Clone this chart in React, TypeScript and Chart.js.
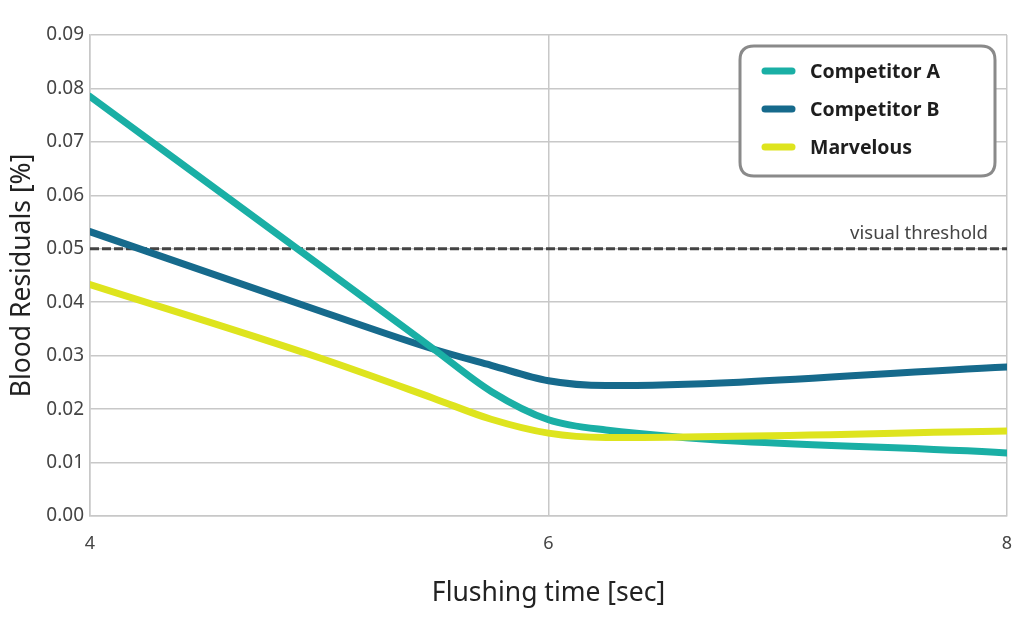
import React, { useEffect, useRef } from "react";
import { Chart, registerables } from "chart.js";

Chart.register(...registerables);

const X_VALUES = [4, 5, 5.5, 5.75, 6, 6.25, 8];
const COMPETITOR_A = [0.0785, 0.047, 0.0312, 0.0233, 0.018, 0.0161, 0.0118];
const COMPETITOR_B = [0.0532, 0.0384, 0.0312, 0.0282, 0.0253, 0.0244, 0.0279];
const MARVELOUS = [0.0433, 0.0296, 0.022, 0.0181, 0.0155, 0.0147, 0.0159];
const SERIES_LABELS = ["Competitor A", "Competitor B", "Marvelous"];
const SERIES_COLORS = ["#1aafa5", "#166a8c", "#dee41e"];
const THRESHOLD = 0.05;
const THRESHOLD_LABEL = "visual threshold";
const X_TITLE = "Flushing time [sec]";
const Y_TITLE = "Blood Residuals [%]";

const FONT = "'Noto Sans', 'Open Sans', sans-serif";

export default function App() {
  const ref = useRef<HTMLCanvasElement | null>(null);

  useEffect(() => {
    document.body.style.margin = "0";
    const canvas = ref.current;
    if (!canvas) return;

    const series = [COMPETITOR_A, COMPETITOR_B, MARVELOUS];
    const orders = [1, 2, 0];

    const lineSets = series.map((vals, i) => ({
      label: SERIES_LABELS[i],
      data: X_VALUES.map((x, j) => ({ x, y: vals[j] })),
      borderColor: SERIES_COLORS[i],
      backgroundColor: SERIES_COLORS[i],
      borderWidth: 7,
      pointRadius: 0,
      cubicInterpolationMode: "monotone" as const,
      borderCapStyle: "round" as const,
      order: orders[i],
      fill: false,
    }));

    const thresholdSet = {
      label: THRESHOLD_LABEL,
      data: [
        { x: X_VALUES[0], y: THRESHOLD },
        { x: X_VALUES[X_VALUES.length - 1], y: THRESHOLD },
      ],
      borderColor: "#444444",
      borderWidth: 3,
      borderDash: [9, 3],
      pointRadius: 0,
      order: 3,
      fill: false,
    };

    const overlay = {
      id: "overlay",
      afterDraw(chart: any) {
        const { ctx, chartArea, scales } = chart;
        ctx.save();
        // threshold label
        const ty = scales.y.getPixelForValue(THRESHOLD);
        ctx.font = `18.5px ${FONT}`;
        ctx.fillStyle = "#444444";
        ctx.textAlign = "right";
        ctx.textBaseline = "bottom";
        ctx.fillText(THRESHOLD_LABEL, chartArea.right - 19, ty - 6);

        // legend box
        const bx = 740, by = 46, bw = 255, bh = 130, r = 14;
        ctx.beginPath();
        ctx.moveTo(bx + r, by);
        ctx.lineTo(bx + bw - r, by);
        ctx.quadraticCurveTo(bx + bw, by, bx + bw, by + r);
        ctx.lineTo(bx + bw, by + bh - r);
        ctx.quadraticCurveTo(bx + bw, by + bh, bx + bw - r, by + bh);
        ctx.lineTo(bx + r, by + bh);
        ctx.quadraticCurveTo(bx, by + bh, bx, by + bh - r);
        ctx.lineTo(bx, by + r);
        ctx.quadraticCurveTo(bx, by, bx + r, by);
        ctx.closePath();
        ctx.fillStyle = "#ffffff";
        ctx.fill();
        ctx.lineWidth = 3;
        ctx.strokeStyle = "#8a8a8a";
        ctx.stroke();

        SERIES_LABELS.forEach((label, i) => {
          const y = 71 + i * 38;
          ctx.beginPath();
          ctx.moveTo(765, y);
          ctx.lineTo(792, y);
          ctx.lineWidth = 7;
          ctx.lineCap = "round";
          ctx.strokeStyle = SERIES_COLORS[i];
          ctx.stroke();
          ctx.font = `bold 19.5px ${FONT}`;
          ctx.fillStyle = "#1e1e1e";
          ctx.textAlign = "left";
          ctx.textBaseline = "middle";
          ctx.fillText(label, 810, y + 1);
        });
        ctx.restore();
      },
    };

    const chart = new Chart(canvas, {
      type: "line",
      data: { datasets: [...lineSets, thresholdSet] as any },
      options: {
        animation: false,
        responsive: false,
        maintainAspectRatio: false,
        layout: { padding: { top: 35, right: 17, left: 0, bottom: 0 } },
        plugins: {
          legend: { display: false },
          tooltip: { enabled: false },
        },
        scales: {
          x: {
            type: "linear",
            min: 4,
            max: 8,
            ticks: {
              stepSize: 2,
              color: "#444444",
              font: { family: FONT, size: 18 },
              padding: 17,
            },
            grid: { color: "#c8c8c8", lineWidth: 1.5, drawTicks: false },
            border: { color: "#c8c8c8", width: 1.5 },
            title: {
              display: true,
              text: X_TITLE,
              color: "#222222",
              font: { family: FONT, size: 26.5 },
              padding: { top: 0, bottom: 9 },
            },
            afterFit(scale: any) {
              scale.height = 618 - 516;
              scale.paddingRight = 0;
              scale.paddingLeft = 0;
            },
          },
          y: {
            min: 0,
            max: 0.09,
            ticks: {
              stepSize: 0.01,
              color: "#444444",
              font: { family: FONT, size: 19 },
              padding: 6,
              callback: (v: any) => Number(v).toFixed(2),
            },
            grid: { color: "#c8c8c8", lineWidth: 1.5, drawTicks: false },
            border: { color: "#c8c8c8", width: 1.5 },
            title: {
              display: true,
              text: Y_TITLE,
              color: "#222222",
              font: { family: FONT, size: 26.5 },
              padding: { top: 7, bottom: 0 },
            },
            afterFit(scale: any) {
              scale.width = 90;
            },
          },
        },
      },
      plugins: [overlay],
    });

    return () => chart.destroy();
  }, []);

  return (
    <div style={{ width: 1024, height: 618 }}>
      <canvas ref={ref} width={1024} height={618} style={{ display: "block" }} />
    </div>
  );
}
